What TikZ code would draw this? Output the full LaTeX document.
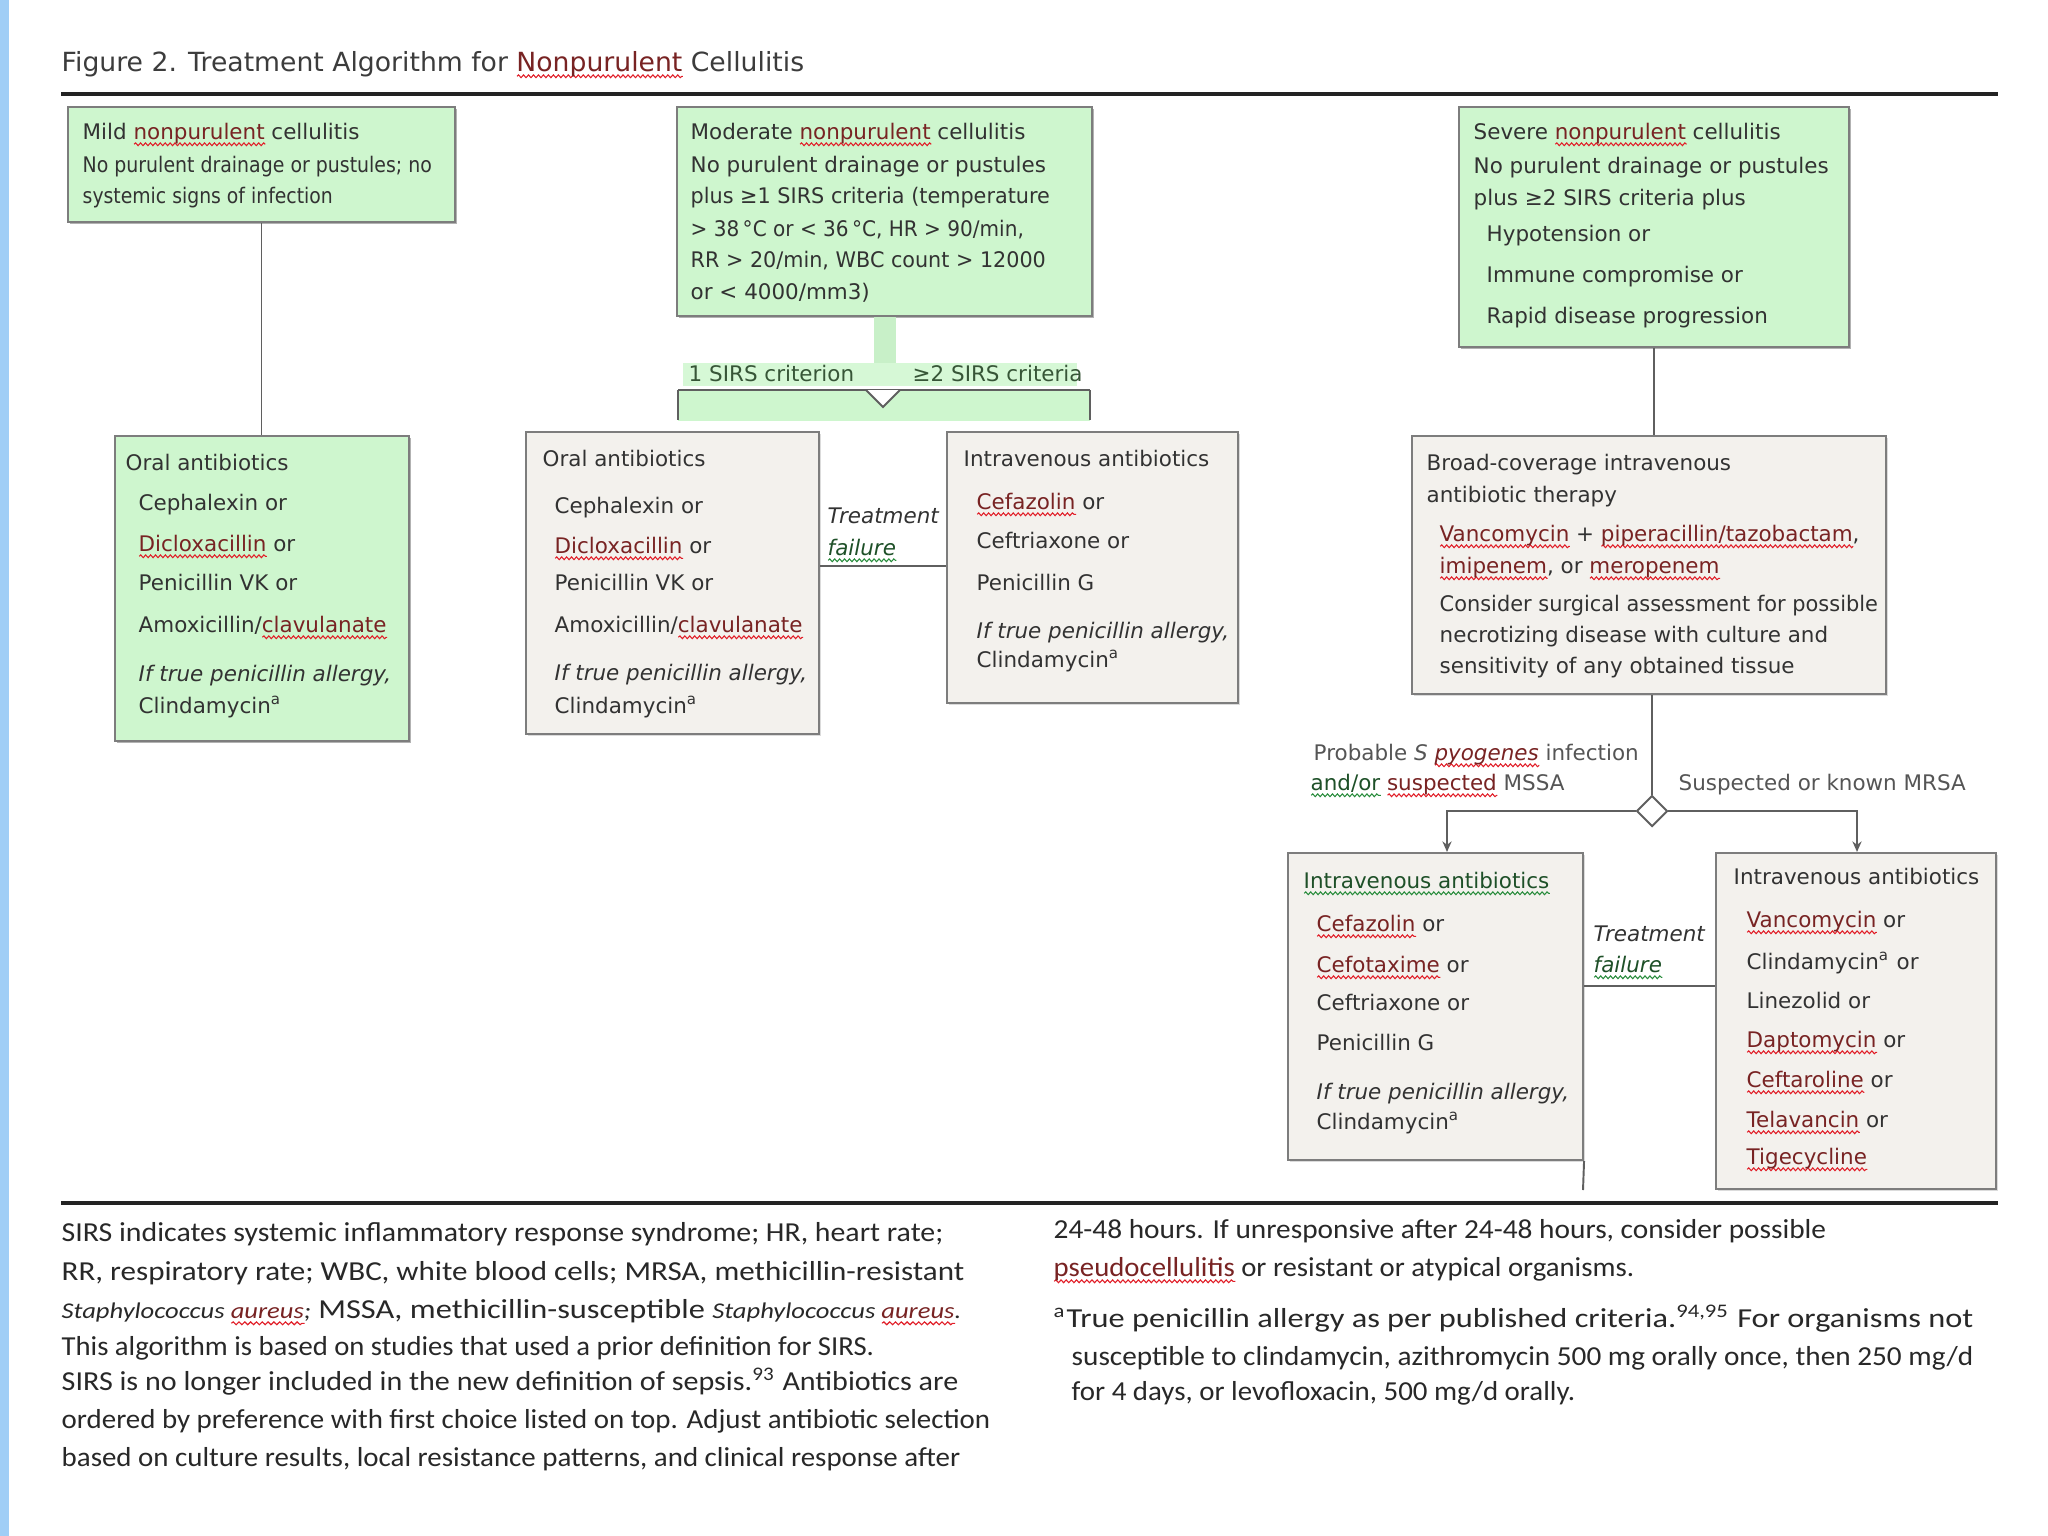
\documentclass[tikz,border=0pt]{standalone}
\usepackage{fontspec}
\setmainfont{DejaVu Sans}
\newfontfamily\footfont{Carlito}
\usepackage{graphicx}
\usetikzlibrary{fit,shapes.geometric,arrows.meta,shadows,decorations.pathmorphing}

\definecolor{gfill}{RGB}{206,246,206}
\definecolor{bfill}{RGB}{243,241,237}
\definecolor{bord}{RGB}{125,125,125}
\definecolor{connc}{RGB}{95,95,95}
\definecolor{txtc}{RGB}{50,50,50}
\definecolor{titc}{RGB}{60,60,60}
\definecolor{footc}{RGB}{40,40,40}
\definecolor{labc}{RGB}{85,85,85}
\definecolor{sirsc}{RGB}{55,85,55}
\definecolor{rulec}{RGB}{35,35,35}
\definecolor{sqred}{RGB}{225,30,40}
\definecolor{sqgreen}{RGB}{40,140,60}
\definecolor{wordred}{RGB}{120,35,35}
\definecolor{wordgreen}{RGB}{30,80,40}
\definecolor{stripe}{RGB}{160,206,246}
\definecolor{barg}{RGB}{200,240,200}
\definecolor{bandg}{RGB}{214,248,214}

\newsavebox\sqbox
\newcommand\squig[2]{\sbox\sqbox{#2}%
  \makebox[0pt][l]{\raisebox{-1.5pt}[0pt][0pt]{\tikz[baseline=0pt]\draw[#1, line width=0.3pt, decorate,
     decoration={snake, segment length=1.4pt, amplitude=0.4pt}] (0pt,0pt) -- (\wd\sqbox,0pt);}}%
  \usebox\sqbox}
\newcommand\rw[1]{\squig{sqred}{\color{wordred}#1}}
\newcommand\gw[1]{\squig{sqgreen}{\color{wordgreen}#1}}
\newcommand\bt{\fontsize{6.1}{7}\selectfont}
\newcommand\fw[2]{\resizebox{#1cm}{\height}{#2}}

\tikzset{
  gbox/.style={draw=bord, line width=0.6pt, fill=gfill, inner sep=0pt,
    drop shadow={shadow xshift=0.6pt, shadow yshift=-0.6pt, fill=black!60, opacity=0.5}},
  bbox/.style={draw=bord, line width=0.6pt, fill=bfill, inner sep=0pt,
    drop shadow={shadow xshift=0.5pt, shadow yshift=-0.5pt, fill=black!40, opacity=0.35}},
  tx/.style={anchor=base west, inner sep=0pt, text=txtc, font=\bt},
  itx/.style={tx, font=\bt\itshape},
  lab/.style={tx, text=labc},
  foot/.style={anchor=base west, inner sep=0pt, text=footc, font=\footfont\fontsize{7.8}{9}\selectfont},
  conn/.style={draw=connc, line width=0.55pt},
  arr/.style={conn, -{Stealth[length=3pt,width=2.6pt]}},
  rulel/.style={draw=rulec, line width=1.1pt},
}

\begin{document}
\begin{tikzpicture}[x=0.01cm,y=-0.01cm]
\useasboundingbox (0,0) rectangle (2048,1536);
\fill[white] (0,0) rectangle (2048,1536);
\fill[stripe] (0,0) rectangle (9,1536);

% title and rules
\node[anchor=base west, inner sep=0pt, text=titc, font=\fontsize{7.5}{9}\selectfont] (title) at (61,71)
  {\fw{7.42}{Figure 2. Treatment Algorithm for \rw{Nonpurulent} Cellulitis}};
\coordinate (r1a) at (61,94); \coordinate (r1b) at (1998,94);
\coordinate (r2a) at (61,1203); \coordinate (r2b) at (1998,1203);
\draw[rulel] (r1a) -- (r1b);
\draw[rulel] (r2a) -- (r2b);

% boxes
\node[gbox, fit={(68,107) (455,222)}] (mild) {};
\node[gbox, fit={(677,107) (1092,316)}] (moderate) {};
\node[gbox, fit={(1459,107) (1849,347)}] (severe) {};
\node[gbox, fit={(115,436) (409,741)}] (oral1) {};
\node[bbox, fit={(526,432) (819,734)}] (oral2) {};
\node[bbox, fit={(947,432) (1238,703)}] (iv1) {};
\node[bbox, fit={(1412,436) (1886,694)}] (broad) {};
\node[bbox, fit={(1288,853) (1583,1160)}] (mssa) {};
\node[bbox, fit={(1716,853) (1996,1189)}] (mrsa) {};

% moderate branch
\draw[barg, line width=0.22cm] (moderate.south) -- ++(0,47);
\fill[bandg] (683,363) rectangle (1077,386);
\fill[gfill] (678,390) rectangle (1090,421);
\coordinate (mL) at (678,390); \coordinate (mR) at (1090,390);
\coordinate (mLe) at (678,420); \coordinate (mRe) at (1090,420);
\coordinate (mV) at (883,407);
\draw[conn] (mL) -- (mR);
\draw[conn] (mL) -- (mLe);
\draw[conn] (mR) -- (mRe);
\draw[conn, fill=white] (866,390) -- (mV) -- (900,390);

% other connectors
\draw[conn] (mild.south) -- (mild.south |- oral1.north);
\draw[conn] (severe.south) -- (severe.south |- broad.north);
\coordinate (tfy1) at (880,566);
\draw[conn] (oral2.east |- tfy1) -- (iv1.west |- tfy1);
\coordinate (tfy2) at (1650,986);
\draw[conn] (mssa.east |- tfy2) -- (mrsa.west |- tfy2);
\coordinate (mssatail) at (1583,1190);
\draw[conn] (mssa.south east) -- (mssatail);

\node[diamond, draw=connc, line width=0.55pt, fill=white, minimum width=0.31cm, minimum height=0.31cm, inner sep=0pt] (dia) at (1652,811) {};
\draw[conn] (broad.south -| dia) -- (dia.north);
\coordinate (lsplit) at (1447,811); \coordinate (rsplit) at (1857,811);
\draw[arr] (dia.west) -- (lsplit) -- (lsplit |- mssa.north);
\draw[arr] (dia.east) -- (rsplit) -- (rsplit |- mrsa.north);

% mild
\node[tx] (mi1) at (82,139) {Mild \rw{nonpurulent} cellulitis};
\node[tx] (mi2) at (82,172) {\fw{3.49}{No purulent drainage or pustules; no}};
\node[tx] (mi3) at (82,203) {\fw{2.50}{systemic signs of infection}};

% moderate
\node[tx] (mo1) at (690,139) {Moderate \rw{nonpurulent} cellulitis};
\node[tx] (mo2) at (690,172) {\fw{3.55}{No purulent drainage or pustules}};
\node[tx] (mo3) at (690,203) {\fw{3.59}{plus ≥1 SIRS criteria (temperature}};
\node[tx] (mo4) at (690,236) {\fw{3.33}{> 38\,°C or < 36\,°C, HR > 90/min,}};
\node[tx] (mo5) at (690,267) {\fw{3.55}{RR > 20/min, WBC count > 12000}};
\node[tx] (mo6) at (690,299) {or < 4000/mm3)};

% severe
\node[tx] (se1) at (1473,139) {Severe \rw{nonpurulent} cellulitis};
\node[tx] (se2) at (1473,173) {No purulent drainage or pustules};
\node[tx] (se3) at (1473,205) {plus ≥2 SIRS criteria plus};
\node[tx] (se4) at (1486,241) {Hypotension or};
\node[tx] (se5) at (1486,282) {Immune compromise or};
\node[tx] (se6) at (1486,323) {Rapid disease progression};

% moderate branch labels
\node[tx, text=sirsc] (s1) at (688,381) {1 SIRS criterion};
\node[tx, text=sirsc] (s2) at (912,381) {≥2 SIRS criteria};

% oral 1
\node[tx] (oa1) at (125,470) {Oral antibiotics};
\node[tx] (oa2) at (138,510) {Cephalexin or};
\node[tx] (oa3) at (138,551) {\rw{Dicloxacillin} or};
\node[tx] (oa4) at (138,590) {Penicillin VK or};
\node[tx] (oa5) at (138,632) {Amoxicillin/\rw{clavulanate}};
\node[itx] (oa6) at (138,681) {If true penicillin allergy,};
\node[tx] (oa7) at (138,713) {Clindamycin\textsuperscript{a}};

% oral 2
\node[tx] (ob1) at (542,466) {Oral antibiotics};
\node[tx] (ob2) at (554,513) {Cephalexin or};
\node[tx] (ob3) at (554,553) {\rw{Dicloxacillin} or};
\node[tx] (ob4) at (554,590) {Penicillin VK or};
\node[tx] (ob5) at (554,632) {Amoxicillin/\rw{clavulanate}};
\node[itx] (ob6) at (554,680) {If true penicillin allergy,};
\node[tx] (ob7) at (554,713) {Clindamycin\textsuperscript{a}};

% iv 1
\node[tx] (ia1) at (963,466) {Intravenous antibiotics};
\node[tx] (ia2) at (976,509) {\rw{Cefazolin} or};
\node[tx] (ia3) at (976,548) {Ceftriaxone or};
\node[tx] (ia4) at (976,590) {Penicillin G};
\node[itx] (ia5) at (976,638) {If true penicillin allergy,};
\node[tx] (ia6) at (976,667) {Clindamycin\textsuperscript{a}};

% treatment failure 1
\node[itx] (tf1a) at (827,523) {Treatment};
\node[itx] (tf1b) at (827,555) {\gw{failure}};

% broad
\node[tx] (br1) at (1426,470) {Broad-coverage intravenous};
\node[tx] (br2) at (1426,502) {antibiotic therapy};
\node[tx] (br3) at (1439,541) {\rw{Vancomycin} + \rw{piperacillin/tazobactam},};
\node[tx] (br4) at (1439,573) {\rw{imipenem}, or \rw{meropenem}};
\node[tx] (br5) at (1439,611) {\fw{4.38}{Consider surgical assessment for possible}};
\node[tx] (br6) at (1439,642) {necrotizing disease with culture and};
\node[tx] (br7) at (1439,673) {sensitivity of any obtained tissue};

% severe branch labels
\node[lab] (p1) at (1313,760) {Probable {\itshape S \rw{pyogenes}} infection};
\node[lab] (p2) at (1310,790) {\gw{and/or} \rw{suspected} MSSA};
\node[lab] (p3) at (1678,790) {Suspected or known MRSA};

% mssa
\node[tx] (ma1) at (1303,888) {\gw{Intravenous antibiotics}};
\node[tx] (ma2) at (1316,931) {\rw{Cefazolin} or};
\node[tx] (ma3) at (1316,972) {\rw{Cefotaxime} or};
\node[tx] (ma4) at (1316,1010) {Ceftriaxone or};
\node[tx] (ma5) at (1316,1050) {Penicillin G};
\node[itx] (ma6) at (1316,1099) {If true penicillin allergy,};
\node[tx] (ma7) at (1316,1129) {Clindamycin\textsuperscript{a}};

% treatment failure 2
\node[itx] (tf2a) at (1593,941) {Treatment};
\node[itx] (tf2b) at (1593,972) {\gw{failure}};

% mrsa
\node[tx] (ra1) at (1733,884) {Intravenous antibiotics};
\node[tx] (ra2) at (1746,927) {\rw{Vancomycin} or};
\node[tx] (ra3) at (1746,969) {Clindamycin\textsuperscript{a} or};
\node[tx] (ra4) at (1746,1008) {Linezolid or};
\node[tx] (ra5) at (1746,1047) {\rw{Daptomycin} or};
\node[tx] (ra6) at (1746,1087) {\rw{Ceftaroline} or};
\node[tx] (ra7) at (1746,1127) {\rw{Telavancin} or};
\node[tx] (ra8) at (1746,1164) {\rw{Tigecycline}};

% footer left
\node[foot] (f1) at (61,1241) {\fw{8.81}{SIRS indicates systemic inflammatory response syndrome; HR, heart rate;}};
\node[foot] (f2) at (61,1280) {\fw{9.02}{RR, respiratory rate; WBC, white blood cells; MRSA, methicillin-resistant}};
\node[foot] (f3) at (61,1318) {\fw{8.99}{{\fontsize{6.4}{7}\selectfont\itshape Staphylococcus \rw{aureus};} MSSA, methicillin-susceptible {\fontsize{6.4}{7}\selectfont\itshape Staphylococcus \rw{aureus}.}}};
\node[foot] (f4) at (61,1355) {\fw{8.12}{This algorithm is based on studies that used a prior definition for SIRS.}};
\node[foot] (f5) at (61,1390) {\fw{8.96}{SIRS is no longer included in the new definition of sepsis.\textsuperscript{93} Antibiotics are}};
\node[foot] (f6) at (61,1428) {\fw{9.28}{ordered by preference with first choice listed on top. Adjust antibiotic selection}};
\node[foot] (f7) at (61,1466) {\fw{8.98}{based on culture results, local resistance patterns, and clinical response after}};

% footer right
\node[foot] (f8) at (1053,1238) {\fw{7.72}{24-48 hours. If unresponsive after 24-48 hours, consider possible}};
\node[foot] (f9) at (1053,1276) {\fw{5.80}{\rw{pseudocellulitis} or resistant or atypical organisms.}};
\node[foot] (f10) at (1053,1327) {\fw{9.19}{\textsuperscript{a}True penicillin allergy as per published criteria.\textsuperscript{94,95} For organisms not}};
\node[foot] (f11) at (1071,1365) {\fw{9.01}{susceptible to clindamycin, azithromycin 500 mg orally once, then 250 mg/d}};
\node[foot] (f12) at (1071,1400) {\fw{5.03}{for 4 days, or levofloxacin, 500 mg/d orally.}};
\end{tikzpicture}
\end{document}
